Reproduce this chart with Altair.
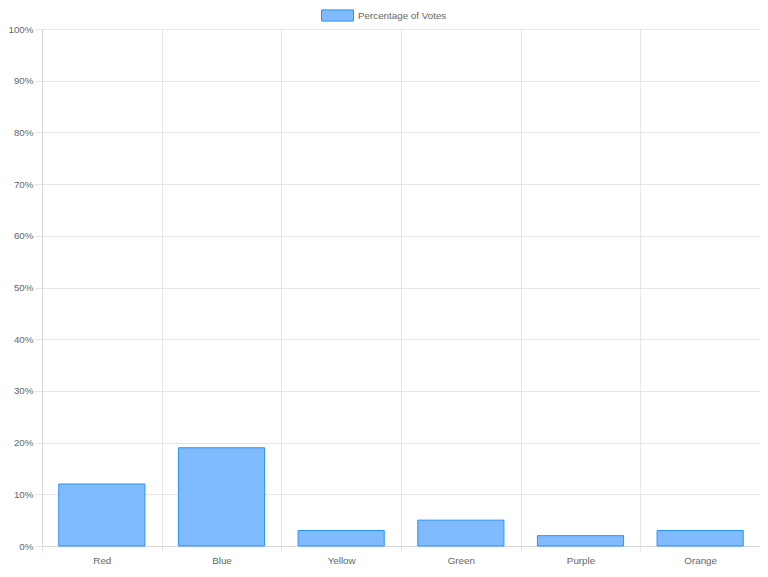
import altair as alt
import pandas as pd

categories = ["Red", "Blue", "Yellow", "Green", "Purple", "Orange"]
votes = [12, 19, 3, 5, 2, 3]
series_name = "Percentage of Votes"
y_ticks = [0, 10, 20, 30, 40, 50, 60, 70, 80, 90, 100]

df = pd.DataFrame({
    "category": categories,
    "votes": votes,
    "series": [series_name] * len(categories),
})

FONT = "Liberation Sans"
FS = 9.8
GRID = "#e6e6e6"
LABEL = "#666666"
FILL = "#80bbff"
STROKE = "#2a90ff"

chart = alt.Chart(df).mark_bar(
    width=alt.RelativeBandSize(0.72),
    stroke=STROKE,
    strokeWidth=1,
).encode(
    x=alt.X(
        "category:N",
        sort=categories,
        scale=alt.Scale(paddingInner=0, paddingOuter=0),
        axis=alt.Axis(
            title=None, labelAngle=0, tickBand="extent", grid=True,
            gridColor=GRID, tickColor=GRID, tickSize=6, labelPadding=3,
            domainColor="#d6d6d6", labelColor=LABEL, labelFontSize=FS,
            labelFont=FONT,
        ),
    ),
    y=alt.Y(
        "votes:Q",
        scale=alt.Scale(domain=[0, 100], nice=False),
        axis=alt.Axis(
            title=None, values=y_ticks, labelExpr="datum.value + '%'",
            grid=True, gridColor=GRID, tickColor=GRID, tickSize=8,
            labelPadding=1, domainColor="#d6d6d6", labelColor=LABEL,
            labelFontSize=FS, labelFont=FONT,
        ),
    ),
    fill=alt.Fill(
        "series:N",
        scale=alt.Scale(range=[FILL]),
        legend=alt.Legend(
            title=None, orient="none", legendX=287, legendY=-22,
            symbolType="M-2,-0.7H2V0.7H-2Z", symbolSize=256,
            symbolStrokeColor=STROKE, symbolStrokeWidth=1,
            symbolFillColor=FILL, labelOffset=12,
            labelColor=LABEL, labelFontSize=FS, labelFont=FONT,
            padding=0,
        ),
    ),
).properties(
    width=718,
    height=517,
    autosize=alt.AutoSizeParams(type="none"),
    padding={"left": 34, "top": 21, "right": 0, "bottom": 23},
).configure_view(stroke=None)

chart.save("out.html", embed_options={"renderer": "svg", "actions": False})
